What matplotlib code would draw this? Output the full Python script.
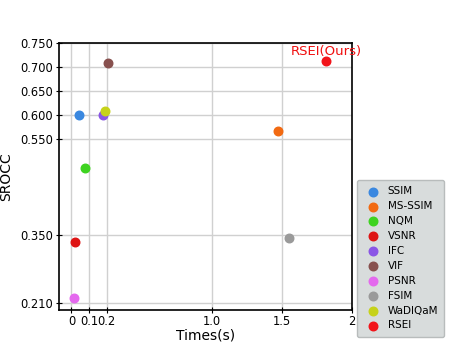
import matplotlib
matplotlib.use("Agg")
from matplotlib import pyplot as plt

methods = ['SSIM', 'MS-SSIM', 'NQM', 'VSNR', 'IFC', 'VIF', 'PSNR', 'FSIM', 'WaDIQaM', 'RSEI']
times = [0.052, 1.47, 0.094, 0.023, 0.222, 0.26, 0.016, 1.553, 0.241, 1.816]
srocc = [0.600, 0.566, 0.490, 0.336, 0.601, 0.708, 0.220, 0.344, 0.608, 0.712]
colors = ['#3a88e0', '#f26a12', '#3ed320', '#de1414', '#8a55e6',
          '#87504e', '#e469ee', '#9a9a9a', '#c6d21a', '#f2141a']

xtick_pos = [0, 0.125, 0.25, 1.0, 1.5, 2.0]
xtick_labels = ['0', '0.1', '0.2', '1.0', '1.5', '2']
yticks = [0.210, 0.350, 0.550, 0.600, 0.650, 0.700, 0.750]

fig = plt.figure(figsize=(4.74, 3.49), dpi=100)
ax = fig.add_axes([0.124, 0.112, 0.619, 0.765])

for m, x, y, c in zip(methods, times, srocc, colors):
    ax.scatter(x, y, s=38, color=c, label=m, zorder=3)

ax.text(times[-1], srocc[-1] + 0.006, 'RSEI(Ours)', color='#f01010',
        fontsize=9.5, ha='center', va='bottom', zorder=4)

ax.set_xlim(-0.09, 2.0)
ax.set_ylim(0.195, 0.75)
ax.set_xticks(xtick_pos)
ax.set_xticklabels(xtick_labels)
ax.set_yticks(yticks)
ax.set_yticklabels(['%.3f' % v for v in yticks])
ax.tick_params(labelsize=8.3, length=4, direction='inout', pad=2)
ax.grid(color='#d0d0d0', lw=1)
ax.set_axisbelow(True)
for s in ax.spines.values():
    s.set_linewidth(1.2)

ax.set_xlabel('Times(s)', fontsize=10, labelpad=0)
ax.set_ylabel('SROCC', fontsize=10, labelpad=5)

ax.legend(loc='lower left', bbox_to_anchor=(1.0, -0.12), fontsize=7.5,
          frameon=True, facecolor='#d8dcdc', edgecolor='#b8bcbc',
          framealpha=1, handletextpad=0.5, labelspacing=0.47,
          borderpad=0.6, handlelength=1.8, scatterpoints=1)

fig.savefig('out.png', dpi=100)
